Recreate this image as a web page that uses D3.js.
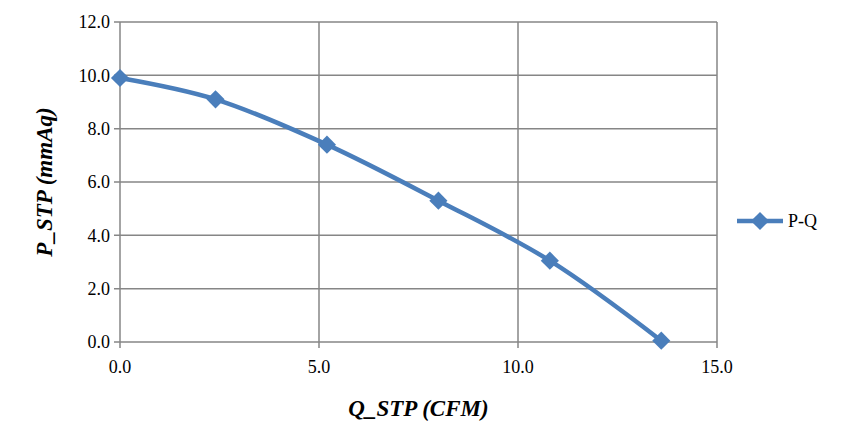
<!DOCTYPE html>
<html>
<head>
<meta charset="utf-8">
<script src="https://cdn.jsdelivr.net/npm/d3@7"></script>
<style>
    body { margin: 0; background: #fff; }
</style>
</head>
<body>
<script>
var flowValues = [0, 2.4, 5.2, 8.0, 10.8, 13.6];
var pressureValues = [9.9, 9.1, 7.4, 5.3, 3.05, 0.05];
var xTicks = [0, 5, 10, 15];
var yTicks = [0, 2, 4, 6, 8, 10, 12];
var seriesName = "P-Q";

drawChart();
function drawChart() {
    var margin = { top: 22, left: 120 };
    var width = 597;
    var height = 320;
    var color = "#4a7ebb";
    var gridColor = "#868686";
    var font = "'Liberation Serif', 'Times New Roman', 'DejaVu Serif', serif";

    var svg = d3.select("body").append("svg")
        .attr("width", 860)
        .attr("height", 441)
        .attr("font-family", font)
        .style("font-family", font);
    var g = svg.append("g")
        .attr("transform", "translate(" + margin.left + "," + margin.top + ")");

    var x = d3.scaleLinear().domain([0, 15]).range([0, width]);
    var y = d3.scaleLinear().domain([0, 12]).range([height, 0]);

    // gridlines
    g.append("g").selectAll("line").data(yTicks).join("line")
        .attr("x1", -6).attr("x2", width)
        .attr("y1", d => y(d)).attr("y2", d => y(d))
        .attr("stroke", gridColor).attr("stroke-width", 1.5);
    g.append("g").selectAll("line").data(xTicks).join("line")
        .attr("x1", d => x(d)).attr("x2", d => x(d))
        .attr("y1", 0).attr("y2", height + 6)
        .attr("stroke", gridColor).attr("stroke-width", 1.5);

    // tick labels
    g.append("g").selectAll("text").data(yTicks).join("text")
        .attr("x", -10).attr("y", d => y(d))
        .attr("dy", "0.35em")
        .attr("text-anchor", "end")
        .attr("font-size", 18)
        .text(d => d.toFixed(1));
    g.append("g").selectAll("text").data(xTicks).join("text")
        .attr("x", d => x(d)).attr("y", height + 31)
        .attr("text-anchor", "middle")
        .attr("font-size", 18)
        .text(d => d.toFixed(1));

    // axis titles
    svg.append("text")
        .attr("x", margin.left + width / 2).attr("y", 416)
        .attr("text-anchor", "middle")
        .attr("font-size", 23).attr("font-weight", "bold").attr("font-style", "italic")
        .text("Q_STP (CFM)");
    svg.append("text")
        .attr("transform", "translate(52," + (margin.top + height / 2) + ") rotate(-90)")
        .attr("text-anchor", "middle")
        .attr("font-size", 23).attr("font-weight", "bold").attr("font-style", "italic")
        .text("P_STP (mmAq)");

    // series
    var points = flowValues.map((q, i) => ({ q: q, p: pressureValues[i] }));
    g.append("path")
        .datum(points)
        .attr("fill", "none")
        .attr("stroke", color)
        .attr("stroke-width", 4.5)
        .attr("d", d3.line()
            .x(d => x(d.q))
            .y(d => y(d.p))
            .curve(d3.curveCatmullRom.alpha(0.5)));
    var diamond = d3.symbol().type(d3.symbolDiamond2).size(210);
    g.append("g").selectAll("path").data(points).join("path")
        .attr("transform", d => "translate(" + x(d.q) + "," + y(d.p) + ")")
        .attr("d", diamond)
        .attr("fill", color);

    // legend
    var legend = svg.append("g").attr("transform", "translate(737,221)");
    legend.append("line")
        .attr("x1", 0).attr("x2", 46)
        .attr("stroke", color).attr("stroke-width", 4.5);
    legend.append("path")
        .attr("transform", "translate(23,0)")
        .attr("d", diamond)
        .attr("fill", color);
    legend.append("text")
        .attr("x", 51).attr("dy", "0.35em")
        .attr("font-size", 18)
        .text(seriesName);
}
</script>
</body>
</html>
